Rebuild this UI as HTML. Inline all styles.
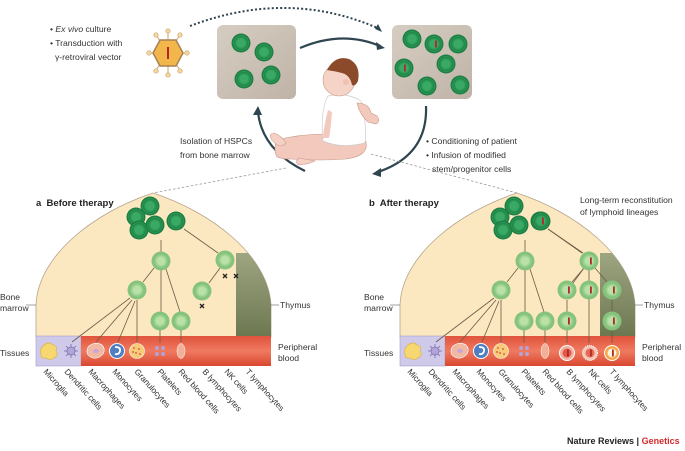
<!DOCTYPE html>
<html><head><meta charset="utf-8"><style>
html,body{margin:0;padding:0;background:#fff;}
svg{display:block;font-family:"Liberation Sans",sans-serif;}
.t{font-size:8.6px;fill:#333;}
.l{font-size:8.3px;fill:#333;}
</style></head><body>
<svg width="685" height="451" viewBox="0 0 685 451" xmlns="http://www.w3.org/2000/svg">
<defs>
<radialGradient id="dg" cx="0.5" cy="0.5" r="0.5"><stop offset="0" stop-color="#5cc182"/><stop offset="0.7" stop-color="#2a9a55"/><stop offset="1" stop-color="#1c7a40"/></radialGradient>
<radialGradient id="lg" cx="0.5" cy="0.5" r="0.5"><stop offset="0" stop-color="#d7f0c8"/><stop offset="0.6" stop-color="#a8d99a"/><stop offset="1" stop-color="#7fbf78"/></radialGradient>
<linearGradient id="bl" x1="0" y1="0" x2="0" y2="1"><stop offset="0" stop-color="#e0533c"/><stop offset="0.5" stop-color="#ef7a60"/><stop offset="1" stop-color="#d9472f"/></linearGradient>
<linearGradient id="th" x1="0" y1="0" x2="0" y2="1"><stop offset="0" stop-color="#9ea581"/><stop offset="1" stop-color="#6c7750"/></linearGradient>
<linearGradient id="bx" x1="0" y1="0" x2="1" y2="1"><stop offset="0" stop-color="#d6cdc2"/><stop offset="1" stop-color="#bfb3a6"/></linearGradient>
<g id="D"><circle r="9.5" fill="#1d7f43"/><circle r="7.5" fill="url(#dg)" stroke="#2c9656" stroke-width="1"/><circle r="4.5" fill="#3aa965"/></g>
<g id="L"><circle r="9.5" fill="#86c37d"/><circle r="7.5" fill="url(#lg)"/><circle r="4" fill="#b9e1a8"/></g>
<g id="bar"><rect x="0" y="-3.5" width="1.8" height="7" fill="#b3262a"/></g>
<g id="blood">
<path d="M44,345 q5,-4 9,0 q5,1 3,6 q3,4 -2,7 q-4,3 -8,0 q-5,1 -5,-4 q-2,-5 3,-9z" fill="#f6d770" stroke="#d9b040" stroke-width="0.6"/>
<g stroke="#7a6aa8" stroke-width="0.8"><line x1="64" y1="351" x2="78" y2="351"/><line x1="71" y1="344" x2="71" y2="358"/><line x1="66" y1="346" x2="76" y2="356"/><line x1="76" y1="346" x2="66" y2="356"/></g>
<circle cx="71" cy="351" r="4" fill="#b2a6d8" stroke="#7a6aa8" stroke-width="0.7"/>
<path d="M89,346 q7,-5 13,-1 q4,4 1,9 q-4,5 -10,4 q-6,-2 -6,-6 q0,-4 2,-6z" fill="#f1b8a4" stroke="#fff" stroke-width="0.6"/><ellipse cx="96" cy="351" rx="3" ry="2" fill="#c9a6d8"/>
<circle cx="117" cy="351" r="7.5" fill="#4f7ec2" stroke="#fff" stroke-width="1"/><path d="M115,347 q6,0 5,4 q-1,4 -5,3" fill="none" stroke="#fff" stroke-width="1.8"/>
<circle cx="137" cy="351" r="7.5" fill="#f6cc79" stroke="#fff" stroke-width="0.6"/><g fill="#d44"><circle cx="134" cy="348" r="0.9"/><circle cx="139" cy="349" r="0.9"/><circle cx="136" cy="353" r="0.9"/><circle cx="140" cy="354" r="0.9"/><circle cx="133" cy="352" r="0.9"/></g>
<g fill="#b6a2d2"><circle cx="157" cy="348" r="2"/><circle cx="163" cy="348" r="2"/><circle cx="157" cy="354" r="2"/><circle cx="163" cy="354" r="2"/></g>
<ellipse cx="181" cy="351" rx="4" ry="7.5" fill="#f1b097" stroke="#fff" stroke-width="0.5"/>
</g>
<g id="panel">
<path d="M36,337 L36,305 C38,255 95,212 153,193 C211,212 268,255 271,305 L271,337 Z" fill="#fbe7c0" stroke="#b5a58c" stroke-width="0.8"/>
<path d="M236,253 L248,253 C262,270 270,287 271,305 L271,337 L236,337Z" fill="url(#th)"/>
<rect x="36" y="336" width="45" height="30" fill="#cfc9ea" stroke="#a59fc6" stroke-width="0.6"/>
<rect x="81" y="336" width="190" height="30" fill="url(#bl)"/>
<g stroke="#6b5b45" stroke-width="0.8" fill="none">
<line x1="161" y1="240" x2="161" y2="252"/>
<line x1="184" y1="229" x2="218" y2="253"/>
<line x1="154" y1="268" x2="143" y2="282"/>
<line x1="161" y1="270" x2="161" y2="312"/>
<line x1="166" y1="269" x2="180" y2="312"/>
<line x1="220" y1="268" x2="209" y2="283"/>
<line x1="130" y1="298" x2="72" y2="342"/>
<line x1="132" y1="300" x2="96" y2="342"/>
<line x1="135" y1="301" x2="118" y2="342"/>
<line x1="137" y1="300" x2="137" y2="342"/>
<line x1="160" y1="330" x2="160" y2="343"/>
<line x1="181" y1="330" x2="181" y2="342"/>
</g>
<use href="#blood"/>
<use href="#D" x="136" y="217"/><use href="#D" x="150" y="206"/><use href="#D" x="139" y="230"/><use href="#D" x="155" y="225"/><use href="#D" x="176" y="221"/>
<use href="#L" x="161" y="261"/><use href="#L" x="137" y="290"/><use href="#L" x="160" y="321"/><use href="#L" x="181" y="321"/>
<line x1="26" y1="305" x2="36" y2="305" stroke="#777" stroke-width="0.7"/>
<line x1="271" y1="305" x2="279" y2="305" stroke="#777" stroke-width="0.7"/>
<text class="t" x="0" y="300">Bone</text><text class="t" x="0" y="311">marrow</text>
<text class="t" x="280" y="308">Thymus</text>
<text class="t" x="0" y="356">Tissues</text>
<text class="t" x="278" y="350">Peripheral</text><text class="t" x="278" y="361">blood</text>
<text class="l" transform="translate(43,372) rotate(48)">Microglia</text>
<text class="l" transform="translate(64,372) rotate(48)">Dendritic cells</text>
<text class="l" transform="translate(88,372) rotate(48)">Macrophages</text>
<text class="l" transform="translate(112,372) rotate(48)">Monocytes</text>
<text class="l" transform="translate(134,372) rotate(48)">Granulocytes</text>
<text class="l" transform="translate(157,372) rotate(48)">Platelets</text>
<text class="l" transform="translate(178,372) rotate(48)">Red blood cells</text>
<text class="l" transform="translate(202,372) rotate(48)">B lymphocytes</text>
<text class="l" transform="translate(224,372) rotate(48)">NK cells</text>
<text class="l" transform="translate(245,372) rotate(48)">T lymphocytes</text>
</g>
</defs>

<use href="#panel"/>
<use href="#L" x="225" y="260"/><use href="#L" x="202" y="291"/>
<g stroke="#222" stroke-width="1.3"><path d="M223,274l4,4M227,274l-4,4M234,274l4,4M238,274l-4,4M200,304l4,4M204,304l-4,4"/></g>
<text x="36" y="206" font-size="9.5" font-weight="bold" fill="#222">a&#160; Before therapy</text>

<g transform="translate(364,0)"><use href="#panel"/></g>
<g stroke="#6b5b45" stroke-width="0.8">
<line x1="548" y1="229" x2="583" y2="253"/>
<line x1="584" y1="268" x2="572" y2="282"/>
<line x1="589" y1="270" x2="589" y2="343"/>
<line x1="595" y1="268" x2="607" y2="282"/>
<line x1="567" y1="300" x2="567" y2="343"/>
<line x1="612" y1="300" x2="612" y2="343"/>
</g>
<use href="#D" x="541" y="221"/><use href="#bar" x="542" y="221"/>
<use href="#L" x="589" y="261"/><use href="#bar" x="590" y="261"/>
<use href="#L" x="567" y="290"/><use href="#bar" x="568" y="290"/>
<use href="#L" x="589" y="290"/><use href="#bar" x="590" y="290"/>
<use href="#L" x="612" y="290"/><use href="#bar" x="613" y="290"/>
<use href="#L" x="567" y="321"/><use href="#bar" x="568" y="321"/>
<use href="#L" x="612" y="321"/><use href="#bar" x="613" y="321"/>
<circle cx="567" cy="353" r="7.5" fill="#f2b0a0" stroke="#fff" stroke-width="1"/><circle cx="567" cy="353" r="4.5" fill="#e05a4a"/><use href="#bar" x="567" y="353"/>
<circle cx="590" cy="353" r="7.5" fill="#f6c7b6" stroke="#fff" stroke-width="1" stroke-dasharray="1 1"/><circle cx="590" cy="353" r="4.5" fill="#e56a56"/><use href="#bar" x="590" y="353"/>
<circle cx="612" cy="353" r="7.5" fill="#f7a648" stroke="#fff" stroke-width="1"/><circle cx="612" cy="353" r="4.5" fill="#fff4dc"/><use href="#bar" x="612" y="353"/>
<text x="369" y="206" font-size="9.5" font-weight="bold" fill="#222">b&#160; After therapy</text>
<text class="t" x="580" y="203">Long-term reconstitution</text>
<text class="t" x="580" y="215">of lymphoid lineages</text>

<rect x="217" y="25" width="79" height="74" rx="6" fill="url(#bx)"/>
<rect x="392" y="25" width="80" height="74" rx="6" fill="url(#bx)"/>
<use href="#D" x="241" y="43"/><use href="#D" x="264" y="52"/><use href="#D" x="244" y="79"/><use href="#D" x="271" y="75"/>
<use href="#D" x="412" y="39"/><use href="#D" x="434" y="44"/><use href="#bar" x="435" y="44"/><use href="#D" x="458" y="44"/>
<use href="#D" x="404" y="68"/><use href="#bar" x="404" y="68"/><use href="#D" x="446" y="64"/><use href="#D" x="427" y="86"/><use href="#D" x="460" y="85"/>
<g fill="none" stroke="#2f4550" stroke-width="2.2">
<path d="M300,48 Q342,30 380,46"/>
<path d="M305,171 Q262,150 258,112"/>
<path d="M426,106 Q428,155 378,172"/>
</g>
<path d="M385,48 l-9,-6 l1,8z M258,106 l-5,9 l9,0z M372,174 l9,-6 l0,9z" fill="#2f4550"/>
<path d="M190,26 Q290,-12 382,30" fill="none" stroke="#2f4550" stroke-width="2" stroke-dasharray="2 2.2"/>
<path d="M382,32 l-7,-3 l3,-5z" fill="#2f4550"/>
<g stroke="#c9a56a" stroke-width="1"><line x1="156" y1="35" x2="180" y2="70"/><line x1="180" y1="35" x2="156" y2="70"/><line x1="150" y1="53" x2="186" y2="53"/><line x1="168" y1="32" x2="168" y2="74"/></g>
<g fill="#f5d9a0" stroke="#c9a56a" stroke-width="0.7"><circle cx="156" cy="35" r="2.2"/><circle cx="180" cy="35" r="2.2"/><circle cx="156" cy="71" r="2.2"/><circle cx="180" cy="71" r="2.2"/><circle cx="149" cy="53" r="2.2"/><circle cx="187" cy="53" r="2.2"/><circle cx="168" cy="31" r="2.2"/><circle cx="168" cy="75" r="2.2"/></g>
<polygon points="160,40 176,40 183,53 176,66 160,66 153,53" fill="#f2b64a" stroke="#a88055" stroke-width="1.5"/>
<rect x="167" y="47" width="2" height="12" fill="#b3262a"/>
<text class="t" x="50" y="32">• <tspan font-style="italic">Ex vivo</tspan> culture</text>
<text class="t" x="50" y="46">• Transduction with</text>
<text class="t" x="55" y="60">γ-retroviral vector</text>
<text class="t" x="180" y="144">Isolation of HSPCs</text>
<text class="t" x="180" y="158">from bone marrow</text>
<text class="t" x="426" y="144">• Conditioning of patient</text>
<text class="t" x="426" y="158">• Infusion of modified</text>
<text class="t" x="432" y="172">stem/progenitor cells</text>
<g>
<path d="M276,140 q25,-6 50,-6 q35,-3 40,8 q3,14 -20,17 q-25,2 -55,0 q-14,0 -15,-4 q-2,-5 0,-15z" fill="#f3c9bd" stroke="#c99a8c" stroke-width="0.6"/>
<path d="M272,140 q-4,-6 2,-7 q8,3 12,10 q-6,7 -14,-3z M299,158 q-5,4 0,7 q10,-1 16,-4z" fill="#f5d0c4" stroke="#c99a8c" stroke-width="0.6"/>
<path d="M328,96 q-8,15 -5,45 q18,8 42,2 q2,-20 -4,-42 q-14,-9 -33,-5z" fill="#fff" stroke="#ccc" stroke-width="0.7"/>
<path d="M357,103 q12,0 14,10 l6,3 q4,5 -1,8 l-8,-2 q-8,-7 -11,-19z" fill="#f3c9bd" stroke="#c99a8c" stroke-width="0.6"/>
<path d="M328,110 q-5,20 -5,28 l6,0 q2,-12 3,-26z" fill="#f3c9bd"/>
<circle cx="339" cy="80" r="16" fill="#f5d3c6" stroke="#c99a8c" stroke-width="0.6"/>
<path d="M327,70 q8,-15 22,-11 q12,6 9,22 q-3,6 -6,4 q-2,-10 -10,-12 q-8,-2 -15,-3z" fill="#8b4a2a"/>
<circle cx="346" cy="82" r="3" fill="#f0c0b0"/>
</g>
<path d="M286,168 L153,193" stroke="#999" stroke-width="0.8" stroke-dasharray="2.5 2" fill="none"/>
<path d="M371,154 L517,193" stroke="#999" stroke-width="0.8" stroke-dasharray="2.5 2" fill="none"/>
<text x="567" y="444" font-size="9" font-weight="bold" fill="#222">Nature Reviews | <tspan fill="#d42a2a">Genetics</tspan></text>
</svg>
</body></html>
